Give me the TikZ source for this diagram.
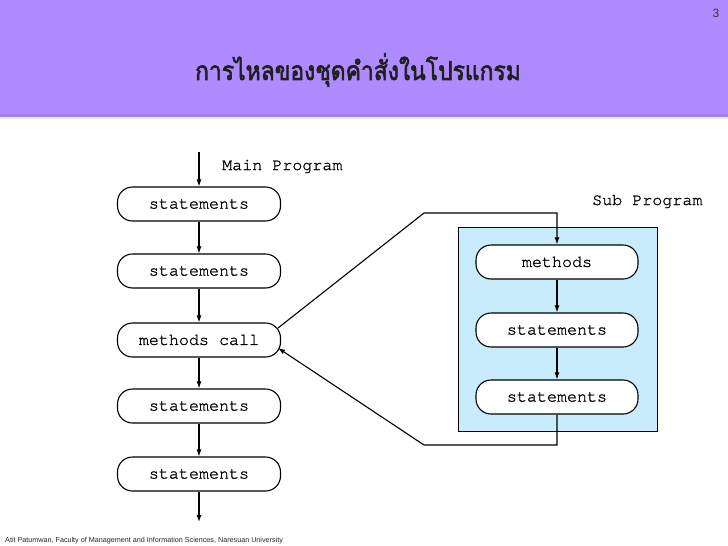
\documentclass[tikz,border=0pt]{standalone}
\usepackage{fontspec}
\setmainfont{Liberation Sans}
\setmonofont[FakeBold=1.2]{texgyrecursor-regular.otf}
\newfontfamily\thaifont[Script=Thai,FakeBold=2.5]{Loma}
\usetikzlibrary{arrows.meta}
\definecolor{band}{RGB}{174,140,255}
\definecolor{bandshadow}{RGB}{160,128,235}
\definecolor{subfill}{RGB}{200,236,252}
\begin{document}
\begin{tikzpicture}[x=1pt,y=-1pt,
  flow/.style={draw, line width=1.1pt, rectangle, rounded corners=15pt, minimum width=163pt, minimum height=34pt, fill=white, font=\ttfamily\fontsize{16.7}{16.7}\selectfont, inner sep=0pt},
  arr/.style={line width=1.1pt, -{Latex[length=7pt,width=5pt]}},
  lbl/.style={font=\ttfamily\fontsize{16.7}{16.7}\selectfont, inner sep=0pt, anchor=base west}]
\useasboundingbox (0,0) rectangle (728,546);
\fill[white] (0,0) rectangle (728,546);
% title band
\fill[band] (0,0) rectangle (728,117);
\fill[bandshadow] (0,114) rectangle (728,117);
\fill[black!8] (0,117) rectangle (728,118.5);
\node[font=\thaifont\fontsize{26}{26}\selectfont, text=black!88, xscale=0.88] (title) at (358,70) {การไหลของชุดคำสั่งในโปรแกรม};
\node[font=\fontsize{12}{12}\selectfont, text=black!80] (pagenum) at (716,13) {3};
\node[font=\fontsize{7.2}{7.2}\selectfont, anchor=base west, inner sep=0pt, text=black!85] (footer) at (5,542) {Atit Patumwan, Faculty of Management and Information Sciences, Naresuan University};
% sub program box
\draw[line width=0.8pt, fill=subfill] (458,227) rectangle (657,431);
% main program
\coordinate (mstart) at (199,152);
\coordinate (mend) at (199,522);
\node[flow] (m1) at (199,204) {statements};
\node[flow] (m2) at (199,271) {statements};
\node[flow] (m3) at (199,340) {methods call};
\node[flow] (m4) at (199,406) {statements};
\node[flow] (m5) at (199,474) {statements};
\node[lbl] (mainlbl) at (222,170) {Main Program};
% sub program
\node[flow, minimum width=162pt] (s1) at (557,262) {methods};
\node[flow, minimum width=162pt] (s2) at (557,330) {statements};
\node[flow, minimum width=162pt] (s3) at (557,397) {statements};
\node[lbl] (sublbl) at (592,205) {Sub Program};
% main arrows
\draw[arr] (mstart) -- (m1.north);
\draw[arr] (m1) -- (m2);
\draw[arr] (m2) -- (m3);
\draw[arr] (m3) -- (m4);
\draw[arr] (m4) -- (m5);
\draw[arr] (m5.south) -- (mend);
% sub arrows
\draw[arr] (s1) -- (s2);
\draw[arr] (s2) -- (s3);
% call and return
\coordinate (c1) at (424,213);
\coordinate (c2) at (557,213);
\coordinate (r1) at (557,445);
\coordinate (r2) at (424,445);
\draw[arr] ([xshift=-3pt,yshift=12pt]m3.east) -- (c1) -- (c2) -- (s1.north);
\draw[arr] (s3.south) -- (r1) -- (r2) -- ([xshift=-3pt,yshift=-8pt]m3.east);
\end{tikzpicture}
\end{document}
